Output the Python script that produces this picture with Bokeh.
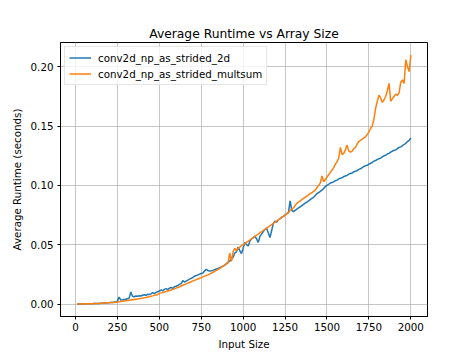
from bokeh.plotting import figure
from bokeh.models import Range1d, FixedTicker, NumeralTickFormatter, Legend, LegendItem
from bokeh.embed import file_html
from bokeh.resources import INLINE

# ---- data ----
sizes = list(range(10, 2001, 10))

runtime_2d = [
    0.0000, 0.0000, 0.0001, 0.0001, 0.0001, 0.0002, 0.0002, 0.0002, 0.0003, 0.0003,
    0.0004, 0.0004, 0.0005, 0.0005, 0.0006, 0.0007, 0.0008, 0.0009, 0.0010, 0.0011,
    0.0012, 0.0013, 0.0015, 0.0017, 0.0025, 0.0058, 0.0035, 0.0036, 0.0038, 0.0040,
    0.0045, 0.0050, 0.0102, 0.0065, 0.0062, 0.0068, 0.0066, 0.0070, 0.0068, 0.0074,
    0.0078, 0.0074, 0.0082, 0.0080, 0.0086, 0.0096, 0.0088, 0.0098, 0.0104, 0.0110,
    0.0118, 0.0112, 0.0124, 0.0130, 0.0122, 0.0134, 0.0140, 0.0132, 0.0146, 0.0150,
    0.0158, 0.0166, 0.0172, 0.0198, 0.0186, 0.0194, 0.0202, 0.0210, 0.0216, 0.0224,
    0.0235, 0.0240, 0.0246, 0.0252, 0.0258, 0.0262, 0.0280, 0.0292, 0.0282, 0.0278,
    0.0280, 0.0284, 0.0290, 0.0296, 0.0300, 0.0306, 0.0312, 0.0320, 0.0328, 0.0340,
    0.0350, 0.0362, 0.0378, 0.0395, 0.0430, 0.0440, 0.0480, 0.0450, 0.0425, 0.0470,
    0.0520, 0.0500, 0.0490, 0.0530, 0.0550, 0.0560, 0.0570, 0.0550, 0.0520, 0.0570,
    0.0590, 0.0610, 0.0630, 0.0640, 0.0600, 0.0560, 0.0620, 0.0680, 0.0700, 0.0690,
    0.0710, 0.0720, 0.0730, 0.0740, 0.0750, 0.0760, 0.0770, 0.0870, 0.0790, 0.0780,
    0.0790, 0.0800, 0.0810, 0.0820, 0.0830, 0.0840, 0.0850, 0.0860, 0.0870, 0.0880,
    0.0890, 0.0900, 0.0915, 0.0930, 0.0940, 0.0950, 0.0960, 0.0975, 0.0990, 0.1000,
    0.1010, 0.1020, 0.1025, 0.1030, 0.1040, 0.1045, 0.1055, 0.1060, 0.1065, 0.1075,
    0.1080, 0.1085, 0.1095, 0.1100, 0.1105, 0.1115, 0.1120, 0.1125, 0.1135, 0.1140,
    0.1150, 0.1160, 0.1165, 0.1170, 0.1180, 0.1185, 0.1195, 0.1205, 0.1210, 0.1220,
    0.1225, 0.1230, 0.1240, 0.1250, 0.1255, 0.1265, 0.1270, 0.1280, 0.1290, 0.1295,
    0.1300, 0.1310, 0.1320, 0.1325, 0.1335, 0.1345, 0.1355, 0.1370, 0.1380, 0.1400,
]

runtime_multsum = [
    0.0000, 0.0000, 0.0001, 0.0001, 0.0001, 0.0002, 0.0002, 0.0002, 0.0003, 0.0003,
    0.0004, 0.0004, 0.0005, 0.0005, 0.0006, 0.0007, 0.0008, 0.0009, 0.0010, 0.0011,
    0.0012, 0.0013, 0.0014, 0.0016, 0.0018, 0.0020, 0.0022, 0.0024, 0.0026, 0.0028,
    0.0030, 0.0032, 0.0034, 0.0036, 0.0038, 0.0040, 0.0042, 0.0044, 0.0047, 0.0050,
    0.0052, 0.0055, 0.0059, 0.0062, 0.0066, 0.0069, 0.0073, 0.0077, 0.0081, 0.0090,
    0.0094, 0.0098, 0.0102, 0.0106, 0.0110, 0.0114, 0.0119, 0.0124, 0.0129, 0.0134,
    0.0140, 0.0146, 0.0152, 0.0158, 0.0164, 0.0170, 0.0176, 0.0182, 0.0188, 0.0195,
    0.0200, 0.0206, 0.0211, 0.0217, 0.0223, 0.0229, 0.0235, 0.0241, 0.0246, 0.0252,
    0.0260, 0.0268, 0.0276, 0.0284, 0.0292, 0.0300, 0.0310, 0.0320, 0.0330, 0.0340,
    0.0350, 0.0430, 0.0360, 0.0440, 0.0470, 0.0450, 0.0470, 0.0480, 0.0490, 0.0500,
    0.0510, 0.0520, 0.0530, 0.0540, 0.0550, 0.0560, 0.0570, 0.0580, 0.0590, 0.0600,
    0.0610, 0.0620, 0.0630, 0.0640, 0.0650, 0.0660, 0.0670, 0.0680, 0.0690, 0.0700,
    0.0710, 0.0720, 0.0730, 0.0740, 0.0750, 0.0760, 0.0770, 0.0790, 0.0800, 0.0810,
    0.0830, 0.0850, 0.0860, 0.0870, 0.0880, 0.0890, 0.0900, 0.0910, 0.0920, 0.0930,
    0.0940, 0.0950, 0.0960, 0.0980, 0.1000, 0.1020, 0.1080, 0.1030, 0.1050, 0.1070,
    0.1090, 0.1110, 0.1130, 0.1150, 0.1180, 0.1200, 0.1230, 0.1320, 0.1260, 0.1270,
    0.1300, 0.1340, 0.1290, 0.1280, 0.1290, 0.1310, 0.1320, 0.1350, 0.1370, 0.1380,
    0.1390, 0.1400, 0.1410, 0.1430, 0.1450, 0.1480, 0.1500, 0.1560, 0.1650, 0.1710,
    0.1760, 0.1740, 0.1700, 0.1720, 0.1750, 0.1800, 0.1860, 0.1710, 0.1730, 0.1750,
    0.1770, 0.1760, 0.1780, 0.1870, 0.1890, 0.1860, 0.2060, 0.2000, 0.1960, 0.2100,
]

series_labels = ["conv2d_np_as_strided_2d", "conv2d_np_as_strided_multsum"]
series_colors = ["#1f77b4", "#ff7f0e"]
x_ticks = [0, 250, 500, 750, 1000, 1250, 1500, 1750, 2000]
y_ticks = [0.00, 0.05, 0.10, 0.15, 0.20]

FONT = "DejaVu Sans"

p = figure(
    width=474, height=355,
    output_backend="svg", toolbar_location=None,
    x_range=Range1d(-89.5, 2099.5), y_range=Range1d(-0.0105, 0.2205),
    title="Average Runtime vs Array Size",
    min_border_left=60, min_border_right=47, min_border_top=42, min_border_bottom=39,
)
p.background_fill_color = "white"
p.border_fill_color = "white"
p.outline_line_color = "black"
p.outline_line_width = 1
p.outline_line_alpha = 1

p.title.align = "center"
p.title.text_font = FONT
p.title.text_font_size = "12.3px"
p.title.text_font_style = "normal"
p.title.text_color = "black"
p.title.standoff = 4

for ax in (p.xaxis[0], p.yaxis[0]):
    ax.axis_line_color = "black"
    ax.major_tick_line_color = "black"
    ax.major_tick_out = 3
    ax.major_tick_in = 0
    ax.minor_tick_line_color = None
    ax.major_label_text_font = FONT
    ax.major_label_text_font_size = "10.3px"
    ax.major_label_text_color = "black"
    ax.axis_label_text_font = FONT
    ax.axis_label_text_font_size = "10.3px"
    ax.axis_label_text_font_style = "normal"
    ax.axis_label_text_color = "black"

p.xaxis.ticker = FixedTicker(ticks=x_ticks)
p.yaxis.ticker = FixedTicker(ticks=y_ticks)
p.yaxis.formatter = NumeralTickFormatter(format="0.00")
p.xaxis.axis_label = "Input Size"
p.yaxis.axis_label = "Average Runtime (seconds)"
p.xaxis.major_label_standoff = 3
p.yaxis.major_label_standoff = 4
p.xaxis.axis_label_standoff = 4
p.yaxis.axis_label_standoff = 5

p.grid.grid_line_color = "#b0b0b0"
p.grid.grid_line_width = 0.8
p.grid.grid_line_alpha = 0.9

r1 = p.line(sizes, runtime_2d, line_color=series_colors[0], line_width=1.5)
r2 = p.line(sizes, runtime_multsum, line_color=series_colors[1], line_width=1.5)

legend = Legend(
    items=[LegendItem(label=series_labels[0], renderers=[r1]),
           LegendItem(label=series_labels[1], renderers=[r2])],
    location="top_left",
    margin=4, padding=4, spacing=3,
    glyph_width=22, glyph_height=13, label_height=13, label_standoff=7,
    label_text_font=FONT, label_text_font_size="10.3px", label_text_color="black",
    border_line_color="#cccccc", border_line_width=1,
    background_fill_color="white", background_fill_alpha=0.8,
)
p.add_layout(legend, "center")

open("out.html", "w").write(file_html(p, INLINE))
